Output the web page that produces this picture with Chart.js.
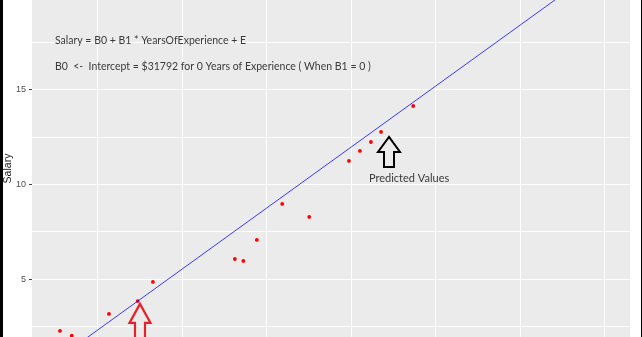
<!DOCTYPE html>
<html>
<head>
<meta charset="utf-8">
<script src="https://cdn.jsdelivr.net/npm/chart.js@4"></script>
<style>
  html, body { margin: 0; padding: 0; background: #fff; }
  canvas { display: block; }
</style>
</head>
<body>
<canvas id="salaryChart" width="642" height="337"></canvas>
<script>
// observed points (x in grid units, salary in units of 10k)
const xValues = [0.55, 0.69, 1.13, 1.47, 1.65, 2.62, 2.72, 2.88, 3.18, 3.50, 3.97, 4.10, 4.23, 4.35, 4.73];
const salaryValues = [2.27, 2.02, 3.17, 3.85, 4.86, 6.07, 5.97, 7.08, 8.98, 8.29, 11.25, 11.78, 12.25, 12.78, 14.15];

// fitted regression line
const fitX = [0, 7.5];
const fitY = [-0.89, 23.27];

const xGridValues = [1, 2, 3, 4, 5, 6, 7];
const yGridValues = [2.5, 5, 7.5, 10, 12.5, 15, 17.5];

const PANEL_BG = '#EBEBEB';

const panelBackground = {
  id: 'panelBackground',
  beforeDraw(chart) {
    const { ctx, chartArea: a } = chart;
    ctx.save();
    ctx.fillStyle = '#fff';
    ctx.fillRect(0, 0, chart.width, chart.height);
    ctx.fillStyle = PANEL_BG;
    ctx.fillRect(a.left, a.top, a.right - a.left, a.bottom - a.top);
    ctx.restore();
  },
  afterDraw(chart) {
    // dark frame of the screenshot
    const ctx = chart.ctx;
    ctx.save();
    ctx.fillStyle = '#000';
    ctx.fillRect(0, 0, 3, chart.height);
    ctx.fillRect(chart.width - 1, 0, 1, chart.height);
    ctx.restore();
  }
};

function drawArrow(ctx, tx, ty, headHalf, headLen, shaftHalf, totalLen, color, lw) {
  ctx.beginPath();
  ctx.moveTo(tx, ty);
  ctx.lineTo(tx + headHalf, ty + headLen);
  ctx.lineTo(tx + shaftHalf, ty + headLen);
  ctx.lineTo(tx + shaftHalf, ty + totalLen);
  ctx.lineTo(tx - shaftHalf, ty + totalLen);
  ctx.lineTo(tx - shaftHalf, ty + headLen);
  ctx.lineTo(tx - headHalf, ty + headLen);
  ctx.closePath();
  ctx.strokeStyle = color;
  ctx.lineWidth = lw;
  ctx.lineJoin = 'miter';
  ctx.stroke();
}

const annotations = {
  id: 'annotations',
  afterDatasetsDraw(chart) {
    const { ctx, scales: { x, y } } = chart;
    ctx.save();
    ctx.fillStyle = '#3a3a3a';
    ctx.font = '10.5px Lato, "Open Sans", sans-serif';
    ctx.textBaseline = 'middle';
    ctx.textAlign = 'left';
    ctx.fillText('Salary = B0 + B1 * YearsOfExperience + E', x.getPixelForValue(0.49), y.getPixelForValue(17.59));
    ctx.fillText('B0  <-  Intercept = $31792 for 0 Years of Experience ( When B1 = 0 )', x.getPixelForValue(0.49), y.getPixelForValue(16.21));
    ctx.font = '11px Lato, "Open Sans", sans-serif';
    ctx.fillText('Predicted Values', x.getPixelForValue(4.207), y.getPixelForValue(10.30));

    drawArrow(ctx, x.getPixelForValue(4.444), y.getPixelForValue(12.52), 11, 15, 5, 30, '#000', 2);
    drawArrow(ctx, x.getPixelForValue(1.497), y.getPixelForValue(3.70), 10.5, 19, 5, 60, '#E8202A', 2.2);
    ctx.restore();
  }
};

new Chart(document.getElementById('salaryChart'), {
  type: 'scatter',
  data: {
    datasets: [
      {
        label: 'Salary',
        data: xValues.map((v, i) => ({ x: v, y: salaryValues[i] })),
        backgroundColor: '#FF0000',
        borderColor: '#FF0000',
        borderWidth: 0,
        pointRadius: 1.9,
        order: 2
      },
      {
        label: 'Fit',
        type: 'line',
        data: fitX.map((v, i) => ({ x: v, y: fitY[i] })),
        borderColor: 'rgba(0, 0, 255, 0.85)',
        borderWidth: 0.9,
        pointRadius: 0,
        fill: false,
        order: 1
      }
    ]
  },
  options: {
    responsive: false,
    animation: false,
    layout: { autoPadding: false, padding: { left: 0, right: 12, top: 0, bottom: 0 } },
    plugins: {
      legend: { display: false },
      tooltip: { enabled: false }
    },
    scales: {
      x: {
        type: 'linear',
        min: 0.219,
        max: 7.296,
        afterBuildTicks: (scale) => { scale.ticks = xGridValues.map(v => ({ value: v })); },
        afterFit: (scale) => {
          scale.height = 0;
          scale.paddingLeft = 0;
          scale.paddingRight = 0;
        },
        grid: { color: '#FFFFFF', lineWidth: 1, drawTicks: false },
        border: { display: false },
        ticks: { display: false }
      },
      y: {
        min: 1.95,
        max: 19.75,
        afterBuildTicks: (scale) => { scale.ticks = yGridValues.map(v => ({ value: v })); },
        afterFit: (scale) => {
          scale.width = 32;
          scale.paddingTop = 0;
          scale.paddingBottom = 0;
        },
        grid: {
          color: '#FFFFFF',
          lineWidth: 1,
          tickLength: 3,
          tickColor: (ctx) => (ctx.tick && ctx.tick.value % 5 === 0 ? '#444' : 'rgba(0,0,0,0)')
        },
        border: { display: false },
        ticks: {
          padding: 3,
          color: '#4D4D4D',
          font: { family: '"Liberation Sans", Arial, sans-serif', size: 9 },
          callback: (v) => (v % 5 === 0 ? String(v) : '')
        },
        title: {
          display: true,
          text: 'Salary',
          color: '#1A1A1A',
          padding: { top: 2, bottom: 0 },
          font: { family: '"Liberation Sans", Arial, sans-serif', size: 10.5 }
        }
      }
    }
  },
  plugins: [panelBackground, annotations]
});
</script>
</body>
</html>
